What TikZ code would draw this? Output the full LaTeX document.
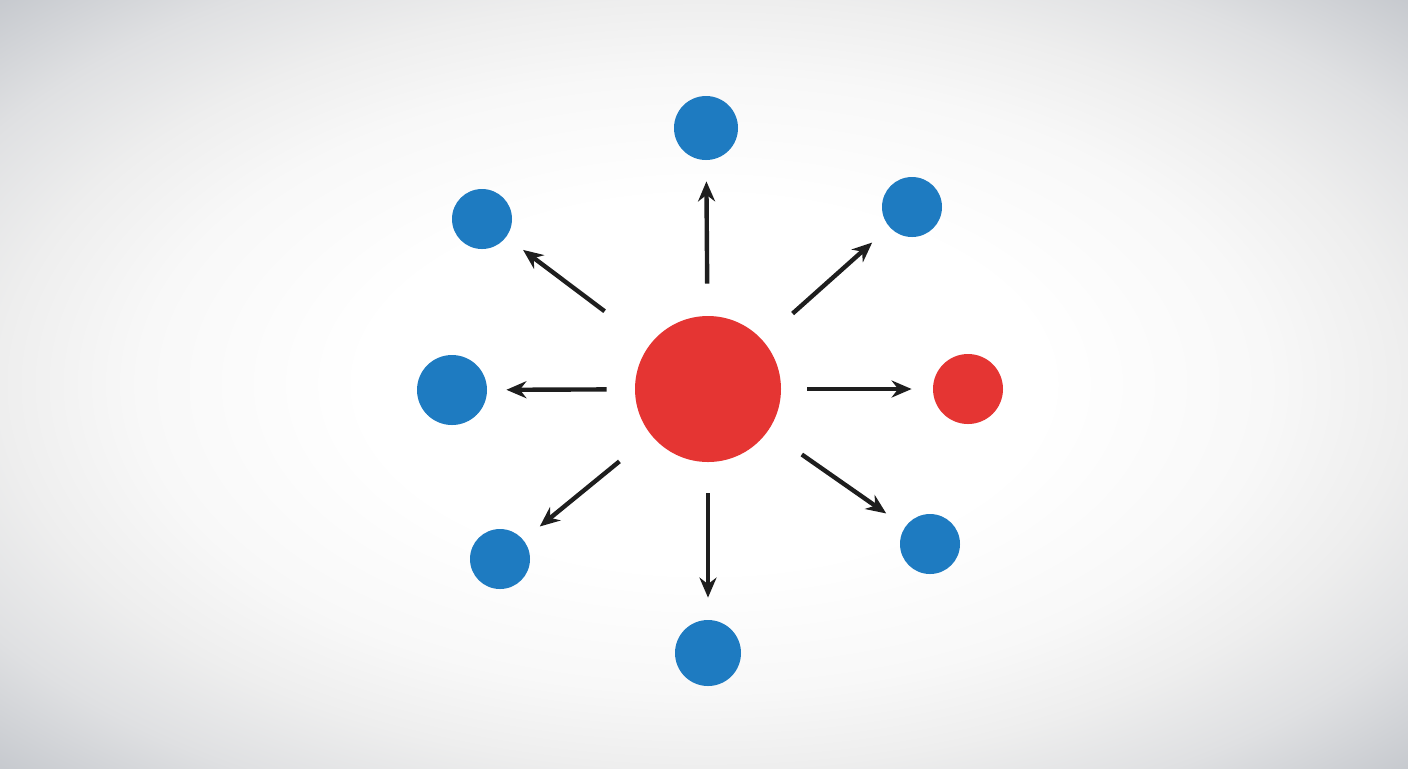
\documentclass[tikz,border=0pt]{standalone}
\usetikzlibrary{arrows.meta}
\definecolor{nodeblue}{HTML}{1E7BC1}
\definecolor{nodered}{HTML}{E53533}
\definecolor{arrowc}{HTML}{1E1E1E}
\definecolor{vigA}{HTML}{F8F8F8}
\definecolor{vigB}{HTML}{EEEEEE}
\definecolor{vigC}{HTML}{DFE0E2}
\definecolor{vigD}{HTML}{C6C9CE}
\pgfdeclareradialshading{vignette}{\pgfpoint{0bp}{0bp}}{%
  color(0bp)=(white);
  color(12bp)=(white);
  color(20bp)=(vigA);
  color(25bp)=(vigB);
  color(30bp)=(vigC);
  color(35.5bp)=(vigD);
  color(50bp)=(vigD)}
\tikzset{
  bnode/.style={circle, fill=nodeblue, draw=none, inner sep=0pt},
  rnode/.style={circle, fill=nodered, draw=none, inner sep=0pt},
  arr/.style={-{Stealth[length=10pt,width=8.5pt]}, line width=2.2pt, draw=arrowc}
}
\begin{document}
\begin{tikzpicture}[x=0.5pt,y=-0.5pt]
\useasboundingbox (0,0) rectangle (1408,768);
\shade[shading=vignette] (0,0) rectangle (1408,768);
\node[rnode, minimum size=73pt] (c) at (708,389) {};
\node[bnode, minimum size=32pt] (t) at (706,128) {};
\node[bnode, minimum size=30pt] (tl) at (482,219) {};
\node[bnode, minimum size=30pt] (tr) at (912,207) {};
\node[bnode, minimum size=35pt] (l) at (452,390) {};
\node[rnode, minimum size=35pt] (r) at (968,389) {};
\node[bnode, minimum size=30pt] (bl) at (500,559) {};
\node[bnode, minimum size=30pt] (br) at (930,544) {};
\node[bnode, minimum size=33pt] (b) at (708,653) {};
\draw[arr, shorten <=16pt, shorten >=10.5pt] (c) -- (t);
\draw[arr, shorten <=28pt, shorten >=10.5pt] (c) -- (tl);
\draw[arr, shorten <=20pt, shorten >=11.5pt] (c) -- (tr);
\draw[arr, shorten <=14pt, shorten >=9.5pt] (c) -- (l);
\draw[arr, shorten <=13pt, shorten >=10.5pt] (c) -- (r);
\draw[arr, shorten <=20.5pt, shorten >=10.5pt] (c) -- (bl);
\draw[arr, shorten <=20.5pt, shorten >=11.5pt] (c) -- (br);
\draw[arr, shorten <=15.5pt, shorten >=11pt] (c) -- (b);
\end{tikzpicture}
\end{document}
